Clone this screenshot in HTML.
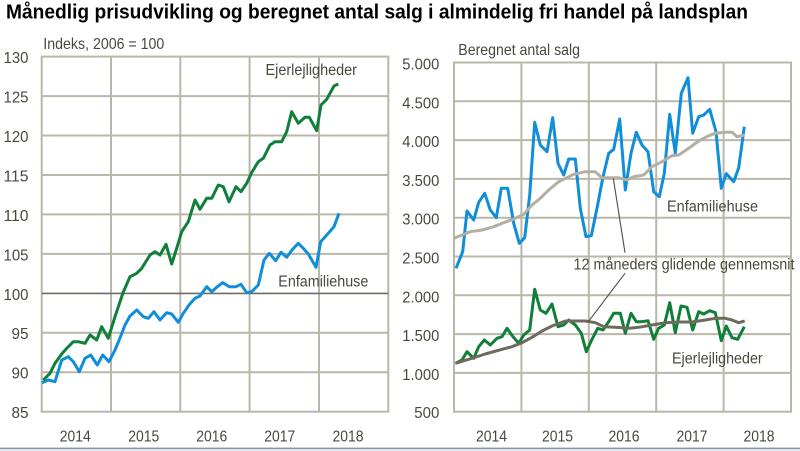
<!DOCTYPE html>
<html>
<head>
<meta charset="utf-8">
<style>
html,body{margin:0;padding:0;background:#fff;}
svg{display:block;}
text{font-family:"Liberation Sans",Arial,sans-serif;fill:#4a483d;}
</style>
</head>
<body>
<svg width="800" height="451" viewBox="0 0 800 451" xmlns="http://www.w3.org/2000/svg">
<rect width="800" height="451" fill="#fff"/>
<!-- Title -->
<text x="6" y="18.5" font-size="20" font-weight="bold" style="fill:#000" textLength="742" lengthAdjust="spacingAndGlyphs">Månedlig prisudvikling og beregnet antal salg i almindelig fri handel på landsplan</text>

<!-- LEFT CHART grid -->
<g stroke="#bab7a9" stroke-width="2" fill="none">
<line x1="41.7" y1="96.1" x2="388.3" y2="96.1"/>
<line x1="41.7" y1="135.5" x2="388.3" y2="135.5"/>
<line x1="41.7" y1="175" x2="388.3" y2="175"/>
<line x1="41.7" y1="214.4" x2="388.3" y2="214.4"/>
<line x1="41.7" y1="253.9" x2="388.3" y2="253.9"/>
<line x1="41.7" y1="332.8" x2="388.3" y2="332.8"/>
<line x1="41.7" y1="372.3" x2="388.3" y2="372.3"/>
<line x1="111" y1="56.6" x2="111" y2="411.7"/>
<line x1="180.3" y1="56.6" x2="180.3" y2="411.7"/>
<line x1="249.6" y1="56.6" x2="249.6" y2="411.7"/>
<line x1="319" y1="56.6" x2="319" y2="411.7"/>
<rect x="41.7" y="56.6" width="346.6" height="355.1"/>
</g>
<line x1="41.7" y1="293.4" x2="388.3" y2="293.4" stroke="#6f6b5e" stroke-width="1.6"/>

<!-- left series -->
<polyline fill="none" stroke="#118ed8" stroke-width="3" stroke-linejoin="round" points="42,382.7 48.3,380 55,381.7 61.7,360 68.3,356.7 73.3,361.7 79.3,371.7 85,358.3 90.7,355 97.3,365 102.7,355 109,361.7 115,350 120,338 125,325 130,316 136.7,310 143.3,316.7 148.3,318.3 154,311.7 160,320 166.7,312.7 171.7,314 178.3,322.3 183.3,313.3 189,305 195,298.3 200,296 206.7,286.7 211.7,291.7 217,287 222.7,282.7 229.3,286.7 236,286.7 241,284.3 246.7,292.7 251.7,291.7 258.3,285 264,260 269.3,253.3 275.7,260.7 281,252.3 286.7,257.3 292,250 298.3,243.3 303,248 308.3,254 316,267.3 320.7,241.7 328.3,233.3 334,226.7 339,213.3"/>
<polyline fill="none" stroke="#0f7f3a" stroke-width="3" stroke-linejoin="round" points="43.3,380 50,373.3 55,363.3 61.7,354 67,348 73.3,341.7 78.3,341.7 85,343.3 90,335 96.7,340 101.7,326.7 108.3,338.3 115,316.7 123.3,292 130,276.7 136.7,273.3 141.7,268.3 150,255 155,251.7 160,255 166,244.3 171.7,264 176.7,248.3 181.7,231.7 188.3,221.7 195,200 200,209.3 206.7,198.3 211.7,198.3 218.3,185 223.3,186.7 229,201.7 236,186.7 241,191.7 246.7,183.3 252,172 258.3,161.7 263.3,158.3 270,145 275,141.7 281.7,141.7 286.7,131.7 291.7,111.7 298.3,123.3 305,117.3 309.3,117.3 316.7,130.7 321,105 326.7,99.3 334,86 338.3,84"/>

<!-- left labels -->
<text x="43.3" y="49" font-size="16" textLength="121" lengthAdjust="spacingAndGlyphs">Indeks, 2006 = 100</text>
<text x="265.5" y="75" font-size="15.5" textLength="91.5" lengthAdjust="spacingAndGlyphs">Ejerlejligheder</text>
<text x="278.3" y="286.3" font-size="15.5" textLength="90" lengthAdjust="spacingAndGlyphs">Enfamiliehuse</text>

<g font-size="16" text-anchor="end">
<text x="28.5" y="63" textLength="25" lengthAdjust="spacingAndGlyphs">130</text>
<text x="28.5" y="102.5" textLength="25" lengthAdjust="spacingAndGlyphs">125</text>
<text x="28.5" y="142" textLength="25" lengthAdjust="spacingAndGlyphs">120</text>
<text x="28.5" y="181.4" textLength="25" lengthAdjust="spacingAndGlyphs">115</text>
<text x="28.5" y="220.8" textLength="25" lengthAdjust="spacingAndGlyphs">110</text>
<text x="28.5" y="260.3" textLength="25" lengthAdjust="spacingAndGlyphs">105</text>
<text x="28.5" y="299.8" textLength="25" lengthAdjust="spacingAndGlyphs">100</text>
<text x="28.5" y="339.2" textLength="17" lengthAdjust="spacingAndGlyphs">95</text>
<text x="28.5" y="378.7" textLength="17" lengthAdjust="spacingAndGlyphs">90</text>
<text x="28.5" y="418.1" textLength="17" lengthAdjust="spacingAndGlyphs">85</text>
</g>
<g font-size="16" text-anchor="middle">
<text x="75.3" y="441.7" textLength="31" lengthAdjust="spacingAndGlyphs">2014</text>
<text x="143.8" y="441.7" textLength="31" lengthAdjust="spacingAndGlyphs">2015</text>
<text x="211.8" y="441.7" textLength="31" lengthAdjust="spacingAndGlyphs">2016</text>
<text x="279.8" y="441.7" textLength="31" lengthAdjust="spacingAndGlyphs">2017</text>
<text x="348" y="441.7" textLength="31" lengthAdjust="spacingAndGlyphs">2018</text>
</g>

<!-- RIGHT CHART grid -->
<g stroke="#bab7a9" stroke-width="2" fill="none">
<line x1="454" y1="101.3" x2="791" y2="101.3"/>
<line x1="454" y1="140.1" x2="791" y2="140.1"/>
<line x1="454" y1="178.9" x2="791" y2="178.9"/>
<line x1="454" y1="217.7" x2="791" y2="217.7"/>
<line x1="454" y1="256.5" x2="791" y2="256.5"/>
<line x1="454" y1="295.3" x2="791" y2="295.3"/>
<line x1="454" y1="334.1" x2="791" y2="334.1"/>
<line x1="454" y1="372.9" x2="791" y2="372.9"/>
<line x1="521.4" y1="62.5" x2="521.4" y2="411.7"/>
<line x1="588.8" y1="62.5" x2="588.8" y2="411.7"/>
<line x1="656.2" y1="62.5" x2="656.2" y2="411.7"/>
<line x1="723.6" y1="62.5" x2="723.6" y2="411.7"/>
<rect x="454" y="62.5" width="337" height="349.2"/>
</g>

<!-- right series -->
<polyline fill="none" stroke="#118ed8" stroke-width="3" stroke-linejoin="round" points="456,268.3 462.7,251.7 467,211 473.7,220 478.7,202.3 484.7,193.3 490.3,210 496.3,217.7 501.3,188.3 507.7,188.3 513.7,223.3 519.3,243.3 524.7,237.7 529.7,195 534.7,122.3 540.3,145 547,151.7 552.7,117.7 558,163.3 563.7,175 568.7,159 575.3,159 580.3,208.3 586,236.7 591.3,235.7 597,208.3 602.7,178.3 608.7,153.3 613.7,149.3 619.7,119 625.3,190 631,153.3 636.3,132.3 642,145 648,151.7 653.7,191.7 659.3,196.7 664.3,173.3 669.7,114.3 675.3,153.3 681.3,93.3 688,77.7 692.7,133.3 698.7,116.7 703.7,115 709.7,109.3 716,131.7 721.3,188.3 726.3,173.7 733.7,181.7 738.7,167.7 744.3,126.7"/>
<polyline fill="none" stroke="#b3b0a3" stroke-width="3" stroke-linejoin="round" points="454,238.3 462,235 470.3,231.7 482,230 493.7,226.7 502,223.3 513.7,219 523.7,214.3 532,205 540.3,198.3 548.7,190 558.7,181.7 573.7,174.3 585.3,171.7 595.3,171.7 602,177.7 610.3,177.7 618.7,177.7 627,180 633.7,176.7 643.7,175 652,166.7 662,161.7 672,155.7 678.7,155 688.7,148.3 698.7,141 708.7,135.7 715.3,133.3 725.3,132.3 732,132.3 737,136.7 744.7,135"/>
<polyline fill="none" stroke="#0f7f3a" stroke-width="3" stroke-linejoin="round" points="456.5,363 462,360 467,351.7 473.7,358.3 478.7,346.7 484.3,340 490.3,345 497,338.3 502,336.7 507,328.3 513,336.7 518.7,343.3 523.7,335 529.7,330 534.7,289.3 540.3,310 546,313.3 552,304 558,326.7 563.7,325 568.7,320 575.3,325 581.3,333.3 586.3,351.7 592,339.3 597.7,328.3 603,330 608.7,321.7 613.7,313.3 620.3,313.3 625.3,333.3 631,313.3 636.3,321.7 642,321.7 648,320.7 653.7,339.3 658.7,328.3 664.3,325 669.7,302.7 675.3,332.7 681,306 687,307.3 692.7,330 698.7,311.7 703.7,314 709.7,310.7 715.3,312.7 721.3,340.7 726.3,326 732,337.7 737.7,339.3 744.3,326.7"/>
<polyline fill="none" stroke="#6e6a5d" stroke-width="3" stroke-linejoin="round" points="455.3,363.3 468.7,359.3 485.3,354 502,349.3 512,346.7 522,342.7 532,337.3 542,331 552,326 565.3,321 585.3,321 595.3,322.7 603.7,326.7 615.3,327.3 628.7,328.3 638.7,327.3 652,325 665.3,322.7 678.7,322 692,322 705.3,320 715.3,318.3 725.3,318.3 732,320 738.7,322.7 744.7,321"/>

<!-- leader lines -->
<g stroke="#4f4b40" stroke-width="1.1">
<line x1="613.3" y1="178.3" x2="625" y2="252.7"/>
<line x1="625" y1="273.3" x2="588.3" y2="321.7"/>
</g>

<!-- right labels -->
<text x="458.3" y="55" font-size="16" textLength="121.7" lengthAdjust="spacingAndGlyphs">Beregnet antal salg</text>
<text x="667" y="211.7" font-size="15.5" textLength="91" lengthAdjust="spacingAndGlyphs">Enfamiliehuse</text>
<text x="573.5" y="269.5" font-size="15.5" textLength="221" lengthAdjust="spacingAndGlyphs">12 måneders glidende gennemsnit</text>
<text x="672" y="363.3" font-size="15.5" textLength="90.7" lengthAdjust="spacingAndGlyphs">Ejerlejligheder</text>

<g font-size="16" text-anchor="end">
<text x="439.3" y="69.5" textLength="37" lengthAdjust="spacingAndGlyphs">5.000</text>
<text x="439.3" y="108.3" textLength="37" lengthAdjust="spacingAndGlyphs">4.500</text>
<text x="439.3" y="147.1" textLength="37" lengthAdjust="spacingAndGlyphs">4.000</text>
<text x="439.3" y="185.9" textLength="37" lengthAdjust="spacingAndGlyphs">3.500</text>
<text x="439.3" y="224.7" textLength="37" lengthAdjust="spacingAndGlyphs">3.000</text>
<text x="439.3" y="263.5" textLength="37" lengthAdjust="spacingAndGlyphs">2.500</text>
<text x="439.3" y="302.3" textLength="37" lengthAdjust="spacingAndGlyphs">2.000</text>
<text x="439.3" y="341.1" textLength="37" lengthAdjust="spacingAndGlyphs">1.500</text>
<text x="439.3" y="379.9" textLength="37" lengthAdjust="spacingAndGlyphs">1.000</text>
<text x="439.3" y="418.2" textLength="25" lengthAdjust="spacingAndGlyphs">500</text>
</g>
<g font-size="16" text-anchor="middle">
<text x="491.5" y="441.7" textLength="31" lengthAdjust="spacingAndGlyphs">2014</text>
<text x="557.5" y="441.7" textLength="31" lengthAdjust="spacingAndGlyphs">2015</text>
<text x="624" y="441.7" textLength="31" lengthAdjust="spacingAndGlyphs">2016</text>
<text x="692" y="441.7" textLength="31" lengthAdjust="spacingAndGlyphs">2017</text>
<text x="759" y="441.7" textLength="31" lengthAdjust="spacingAndGlyphs">2018</text>
</g>

<!-- bottom rule -->
<rect x="0" y="447.6" width="800" height="1.6" fill="#8596a6"/>
<rect x="0" y="449.2" width="800" height="1.8" fill="#e4e8ec"/>
</svg>
</body>
</html>
